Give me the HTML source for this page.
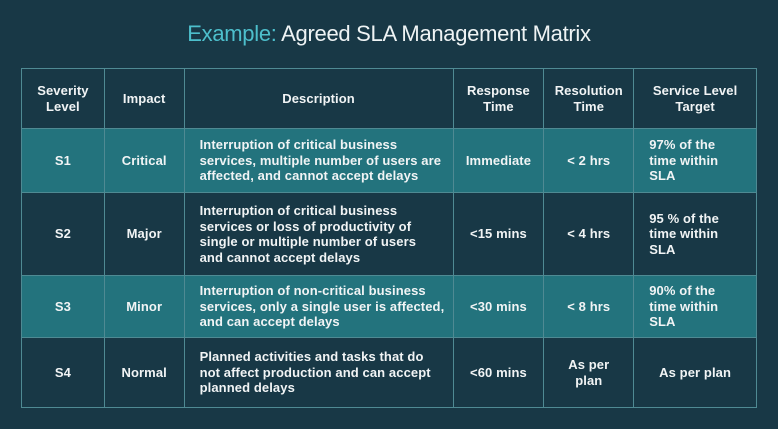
<!DOCTYPE html>
<html><head><meta charset="utf-8"><style>
body{margin:0;width:778px;height:429px;background:#183846;font-family:"Liberation Sans",sans-serif;overflow:hidden;position:relative}
.t{position:absolute;top:21px;left:0;width:778px;text-align:center;font-size:22px;color:#eef3f4;letter-spacing:-0.3px}
.t span{color:#4dbfcc}
table{position:absolute;left:21px;top:68px;border-collapse:collapse;width:736px}
td{border:1px solid #4f8a93;color:#f1f4f5;font-weight:bold;font-size:13px;line-height:15.5px;text-align:center;padding:0;white-space:nowrap;letter-spacing:0.1px}
tr.h td{height:59px}
tr.a td{background:#23737d}
td.l{text-align:left;padding-left:15px}
</style></head><body>
<div class="t"><span>Example:</span> Agreed SLA Management Matrix</div>
<table>
<colgroup><col style="width:83px"><col style="width:80px"><col style="width:269px"><col style="width:91px"><col style="width:90px"><col style="width:123px"></colgroup>
<tr class="h"><td>Severity<br>Level</td><td>Impact</td><td>Description</td><td>Response<br>Time</td><td>Resolution<br>Time</td><td>Service Level<br>Target</td></tr>
<tr class="a" style="height:64px"><td>S1</td><td>Critical</td><td class="l">Interruption of critical business<br>services, multiple number of users are<br>affected, and cannot accept delays</td><td>Immediate</td><td>&lt; 2 hrs</td><td class="l">97% of the<br>time within<br>SLA</td></tr>
<tr style="height:83px"><td>S2</td><td>Major</td><td class="l">Interruption of critical business<br>services or loss of productivity of<br>single or multiple number of users<br>and cannot accept delays</td><td>&lt;15 mins</td><td>&lt; 4 hrs</td><td class="l">95 % of the<br>time within<br>SLA</td></tr>
<tr class="a" style="height:62px"><td>S3</td><td>Minor</td><td class="l">Interruption of non-critical business<br>services, only a single user is affected,<br>and can accept delays</td><td>&lt;30 mins</td><td>&lt; 8 hrs</td><td class="l">90% of the<br>time within<br>SLA</td></tr>
<tr style="height:70px"><td>S4</td><td>Normal</td><td class="l">Planned activities and tasks that do<br>not affect production and can accept<br>planned delays</td><td>&lt;60 mins</td><td>As per<br>plan</td><td>As per plan</td></tr>
</table>
</body></html>
